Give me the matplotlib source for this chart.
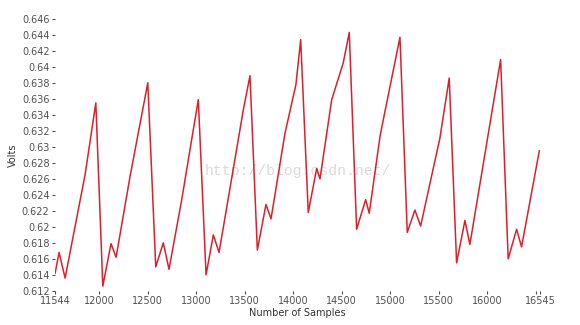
import numpy as np
import matplotlib.pyplot as plt

# Signal turning points (sample index, volts)
samples = [11544, 11585, 11647, 11853, 11964, 12036, 12121, 12173, 12317, 12500,
           12582, 12660, 12719, 12850, 13021, 13101, 13176, 13235, 13485, 13554,
           13630, 13719, 13771, 13915, 14028, 14077, 14155, 14242, 14276, 14397,
           14516, 14578, 14654, 14747, 14784, 14895, 14929, 15101, 15176, 15255,
           15314, 15513, 15609, 15685, 15771, 15822, 16139, 16217, 16304, 16355,
           16538]
volts = [0.6142, 0.6168, 0.6136, 0.6265, 0.6355, 0.6126, 0.6179, 0.6162, 0.6263, 0.6380,
         0.6150, 0.6180, 0.6147, 0.6234, 0.6359, 0.6140, 0.6190, 0.6168, 0.6346, 0.6389,
         0.6171, 0.6228, 0.6210, 0.6317, 0.6378, 0.6434, 0.6218, 0.6273, 0.6260, 0.6359,
         0.6405, 0.6443, 0.6197, 0.6234, 0.6217, 0.6313, 0.6334, 0.6437, 0.6193, 0.6221,
         0.6201, 0.6311, 0.6386, 0.6155, 0.6208, 0.6178, 0.6409, 0.6160, 0.6197, 0.6175,
         0.6295]

xticks = [11544, 12000, 12500, 13000, 13500, 14000, 14500, 15000, 15500, 16000, 16545]
yticks = [0.612, 0.614, 0.616, 0.618, 0.62, 0.622, 0.624, 0.626, 0.628, 0.63,
          0.632, 0.634, 0.636, 0.638, 0.64, 0.642, 0.644, 0.646]

fig = plt.figure(figsize=(5.8, 3.25), dpi=100)
ax = fig.add_axes([0.095, 0.105, 0.836, 0.837])

ax.plot(samples, volts, color='#dd1f2b', linewidth=1.1, zorder=3)

ax.set_xlim(11544, 16545)
ax.set_ylim(0.612, 0.646)
ax.set_xticks(xticks)
ax.set_xticklabels([str(t) for t in xticks])
ax.set_xticks([16500], minor=True)
ax.set_yticks(yticks)
ax.set_yticklabels([('%g' % t) for t in yticks])

for s in ax.spines.values():
    s.set_visible(False)
ax.tick_params(axis='both', labelsize=7, colors='#505050', length=2.5, width=0.8, pad=1.5)
ax.tick_params(axis='x', which='minor', length=2.5, width=0.8, colors='#505050')

ax.set_xlabel('Number of Samples', fontsize=7, color='#333333', labelpad=1)
ax.set_ylabel('Volts', fontsize=7, color='#333333', labelpad=3)

# watermark, behind the line
ax.text(0.514, 0.475, 'http://blog.csdn.net/', fontsize=10.6, family='Liberation Mono',
        color='#dadada', ha='center', va='center', zorder=1, transform=fig.transFigure)

fig.savefig('out.png', dpi=100)
